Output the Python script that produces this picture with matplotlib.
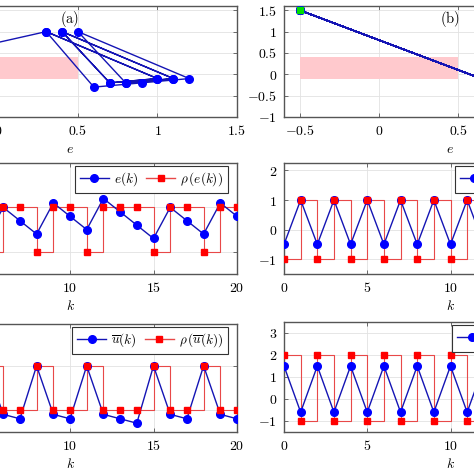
import numpy as np
import matplotlib.pyplot as plt
from matplotlib.lines import Line2D
from matplotlib.ticker import FuncFormatter

plt.rcParams['mathtext.fontset'] = 'cm'
plt.rcParams['font.family'] = ['DejaVu Serif']

# case (a): samples k = 4..20 (earlier ones lie outside the picture)
k_a = [4, 5, 6, 7, 8, 9, 10, 11, 12, 13, 14, 15, 16, 17, 18, 19, 20]
e_a = [-0.5, 0.3, 1.0, 0.7, 0.4, 1.1, 0.8, 0.5, 1.2, 0.9, 0.6, 0.3, 1.0, 0.7, 0.4, 1.1, 0.8]
rho_e_a = [0, 0, 1, 1, 0, 1, 1, 0, 1, 1, 1, 0, 1, 1, 0, 1, 1]
u_a = [0.33, 1.0, -0.1, -0.2, 1.0, -0.1, -0.2, 1.0, -0.1, -0.2, -0.3, 1.0, -0.1, -0.2, 1.0, -0.1, -0.2]
rho_u_a = [0, 1, 0, 0, 1, 0, 0, 1, 0, 0, 0, 1, 0, 0, 1, 0, 0]

# case (b): samples k = 0..20
k_b = [0, 1, 2, 3, 4, 5, 6, 7, 8, 9, 10, 11, 12, 13, 14, 15, 16, 17, 18, 19, 20]
e_b = [-0.5, 1.0, -0.5, 1.0, -0.5, 1.0, -0.5, 1.0, -0.5, 1.0, -0.5,
       1.0, -0.5, 1.0, -0.5, 1.0, -0.5, 1.0, -0.5, 1.0, -0.5]
rho_e_b = [-1, 1, -1, 1, -1, 1, -1, 1, -1, 1, -1, 1, -1, 1, -1, 1, -1, 1, -1, 1, -1]
u_b = [1.5, -0.6, 1.5, -0.6, 1.5, -0.6, 1.5, -0.6, 1.5, -0.6, 1.5,
       -0.6, 1.5, -0.6, 1.5, -0.6, 1.5, -0.6, 1.5, -0.6, 1.5]
rho_u_b = [2, -1, 2, -1, 2, -1, 2, -1, 2, -1, 2, -1, 2, -1, 2, -1, 2, -1, 2, -1, 2]

# target set drawn in the phase plots
target_e = [-0.5, 0.5]
target_u = [-0.1, 0.4]

BLUE = '#0000ff'
BLUE_LINE = '#1414b4'
RED = '#ff0000'
RED_LINE = '#e84848'
PINK = '#ffc9cd'
GREEN = '#00e000'

W, H = 474, 474
fig = plt.figure(figsize=(W / 100, H / 100), dpi=100)


def add_ax(x0, y0, x1, y1):
    # position given in pixels of the picture
    return fig.add_axes([x0 / W, 1 - y1 / H, (x1 - x0) / W, (y1 - y0) / H])


def style(ax, xticks, yticks, xlim, ylim, xlabel):
    ax.set_xlim(*xlim)
    ax.set_ylim(*ylim)
    ax.set_xticks(xticks)
    ax.set_yticks(yticks)
    fmt = FuncFormatter(lambda v, p: '$%g$' % v)
    ax.xaxis.set_major_formatter(fmt)
    ax.yaxis.set_major_formatter(fmt)
    ax.grid(True, color='#e2e2e2', lw=0.6)
    ax.set_axisbelow(True)
    ax.tick_params(direction='in', length=3, width=0.6, color='#555555',
                   top=True, right=True, labelsize=10, pad=5)
    for s in ax.spines.values():
        s.set_color('#555555')
        s.set_linewidth(1.0)
    ax.set_xlabel(xlabel, fontsize=10, labelpad=3)


def legend(ax, lab1, lab2):
    h1 = Line2D([], [], color=BLUE_LINE, lw=1.0, marker='o', ms=5.5,
                mfc=BLUE, mec=BLUE)
    h2 = Line2D([], [], color=RED_LINE, lw=1.0, marker='s', ms=4.5,
                mfc=RED, mec=RED)
    lg = ax.legend([h1, h2], [lab1, lab2], ncol=2, loc='upper right',
                   bbox_to_anchor=(0.973, 0.973), borderaxespad=0,
                   fontsize=9.5, fancybox=False, framealpha=1,
                   edgecolor='#333333', handlelength=2.2, handletextpad=0.4,
                   columnspacing=0.6, borderpad=0.35)
    lg.get_frame().set_linewidth(0.8)


def phase(ax, e, u, label):
    ax.fill_between(target_e, target_u[0], target_u[1], color=PINK, lw=0, zorder=1)
    ax.plot(e, u, color=BLUE_LINE, lw=1.0, marker='o', ms=5.5,
            mfc=BLUE, mec=BLUE, zorder=3)
    ax.plot(e[0], u[0], 's', color=GREEN, ms=5, zorder=4)
    style(ax, [-0.5, 0, 0.5, 1, 1.5], [-1, -0.5, 0, 0.5, 1, 1.5],
          (-0.6, 1.5), (-1, 1.6), '$e$')
    ax.text(0.45, 1.3, label, fontsize=10.5, ha='center', va='center', zorder=5)


def series(ax, k, v, rv, yticks, ylim, lab1, lab2):
    ax.plot(k, v, color=BLUE_LINE, lw=1.0, marker='o', ms=5.5,
            mfc=BLUE, mec=BLUE, zorder=3)
    ax.step(k, rv, where='post', color=RED_LINE, lw=0.8, zorder=2)
    ax.plot(k, rv, 's', color=RED, ms=4.5, zorder=4)
    style(ax, [0, 5, 10, 15, 20], yticks, (0, 20), ylim, '$k$')
    legend(ax, lab1, lab2)


ax = add_ax(-97, 6, 237, 117)
phase(ax, e_a, u_a, r'$\mathrm{(a)}$')
ax = add_ax(284, 6, 617, 117)
phase(ax, e_b, u_b, r'$\mathrm{(b)}$')

ax = add_ax(-97, 163, 237, 274)
series(ax, k_a, e_a, rho_e_a, [0, 1, 2], (-0.5, 2), r'$e(k)$', r'$\rho\,(e(k))$')
ax = add_ax(284, 163, 617, 274)
series(ax, k_b, e_b, rho_e_b, [-1, 0, 1, 2], (-1.5, 2.25), r'$e(k)$', r'$\rho\,(e(k))$')

ax = add_ax(-97, 324, 237, 432)
series(ax, k_a, u_a, rho_u_a, [0, 1], (-0.5, 1.95),
       r'$\overline{u}(k)$', r'$\rho\,(\overline{u}(k))$')
ax = add_ax(284, 322, 617, 432)
series(ax, k_b, u_b, rho_u_b, [-1, 0, 1, 2, 3], (-1.5, 3.5),
       r'$\overline{u}(k)$', r'$\rho\,(\overline{u}(k))$')

fig.savefig('out.png', dpi=100)
